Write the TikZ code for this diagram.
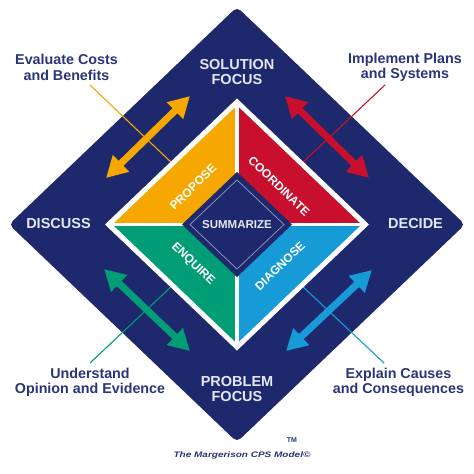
\documentclass[tikz,border=0pt]{standalone}
\usepackage{fontspec}
\setmainfont{Liberation Sans}
\usetikzlibrary{arrows.meta}
\definecolor{navy}{RGB}{30,40,108}
\definecolor{lblnavy}{RGB}{42,54,120}
\definecolor{corange}{RGB}{246,168,0}
\definecolor{cred}{RGB}{200,16,46}
\definecolor{cteal}{RGB}{0,157,118}
\definecolor{cblue}{RGB}{22,155,214}
\definecolor{softwhite}{RGB}{228,231,246}
\begin{document}
\begin{tikzpicture}[x=1pt,y=-1pt,
  outlbl/.style={font=\fontsize{14.3}{15.5}\selectfont\bfseries, text=lblnavy, align=center, inner sep=0pt},
  inlbl/.style={font=\fontsize{14.5}{15.5}\selectfont\bfseries, text=softwhite, align=center, inner sep=0pt},
  qlbl/.style={font=\fontsize{12}{12}\selectfont\bfseries, text=white, inner sep=0pt},
  dblarrow/.style={line width=7pt, {Triangle[length=21pt,width=22pt]}-{Triangle[length=21pt,width=22pt]}},
  leader/.style={line width=1.1pt}
]
\useasboundingbox (0,0) rectangle (474,474);
\fill[white] (0,0) rectangle (474,474);

% outer navy diamond
\fill[navy, rounded corners=5pt] (9,224.5) -- (237,7) -- (465,224.5) -- (237,442) -- cycle;

% leader lines
\coordinate (ol1) at (90,85);   \coordinate (ol2) at (174,165);
\coordinate (rl1) at (385,85);  \coordinate (rl2) at (300,165);
\coordinate (tl1) at (90,363);  \coordinate (tl2) at (174,284);
\coordinate (bl1) at (384,363); \coordinate (bl2) at (300,284);
\draw[leader, corange] (ol1) -- (ol2);
\draw[leader, cred] (rl1) -- (rl2);
\draw[leader, cteal] (tl1) -- (tl2);
\draw[leader, cblue] (bl1) -- (bl2);

% double arrows
\coordinate (oa1) at (106,178); \coordinate (oa2) at (190,96);
\coordinate (ra1) at (369,178); \coordinate (ra2) at (285,96);
\coordinate (ta1) at (104,269); \coordinate (ta2) at (190,351);
\coordinate (ba1) at (372,270); \coordinate (ba2) at (286,351);
\draw[dblarrow, corange] (oa1) -- (oa2);
\draw[dblarrow, cred] (ra1) -- (ra2);
\draw[dblarrow, cteal] (ta1) -- (ta2);
\draw[dblarrow, cblue] (ba1) -- (ba2);

% inner white diamond
\fill[white] (105,224.5) -- (237,98.5) -- (369,224.5) -- (237,350.5) -- cycle;

% quadrants
\coordinate (L) at (112.5,224.5);
\coordinate (T) at (237,105.5);
\coordinate (R) at (361.5,224.5);
\coordinate (B) at (237,343.5);
\coordinate (C) at (237,224.5);
\fill[corange] (L) -- (T) -- (C) -- cycle;
\fill[cred] (T) -- (R) -- (C) -- cycle;
\fill[cblue] (R) -- (B) -- (C) -- cycle;
\fill[cteal] (B) -- (L) -- (C) -- cycle;
\draw[white, line width=3.5pt] (T) -- (B);
\draw[white, line width=3.5pt] (L) -- (R);

% summarize diamond
\fill[navy] (182,224.5) -- (237,172) -- (292,224.5) -- (237,277) -- cycle;
\draw[softwhite!60!navy, line width=0.7pt] (190,224.5) -- (237,180) -- (284,224.5) -- (237,269) -- cycle;
\node[font=\fontsize{11.5}{12}\selectfont\bfseries, text=softwhite, inner sep=0pt] (summ) at (237,224.5) {SUMMARIZE};

% quadrant labels
\node[qlbl, rotate=44] (prop) at (193,187) {PROPOSE};
\node[qlbl, rotate=-44] (coord) at (279,186) {COORDINATE};
\node[qlbl, rotate=-44] (enq) at (193,264) {ENQUIRE};
\node[qlbl, rotate=44] (diag) at (280,266) {DIAGNOSE};

% labels on navy
\node[inlbl] (sol) at (237,72) {SOLUTION\\FOCUS};
\node[inlbl] (prob) at (237,389) {PROBLEM\\FOCUS};
\node[inlbl] (disc) at (58.5,223.5) {DISCUSS};
\node[inlbl] (deci) at (415.5,223.5) {DECIDE};

% outside labels
\node[outlbl] (eval) at (66.5,67.5) {Evaluate Costs\\and Benefits};
\node[outlbl] (impl) at (405,67.5) {Implement Plans\\and Systems};
\node[outlbl] (und) at (90,382.5) {Understand\\Opinion and Evidence};
\node[outlbl] (expl) at (398.5,382.5) {Explain Causes\\and Consequences};

% footer
\node[font=\fontsize{7}{7}\selectfont\bfseries, text=lblnavy, inner sep=0pt] (tm) at (292,440) {TM};
\node[font=\fontsize{8}{8}\selectfont\bfseries\itshape, text=lblnavy, inner sep=0pt] (model) at (242,455.5) {\scalebox{1.25}[1]{The Margerison CPS Model©}};
\end{tikzpicture}
\end{document}
